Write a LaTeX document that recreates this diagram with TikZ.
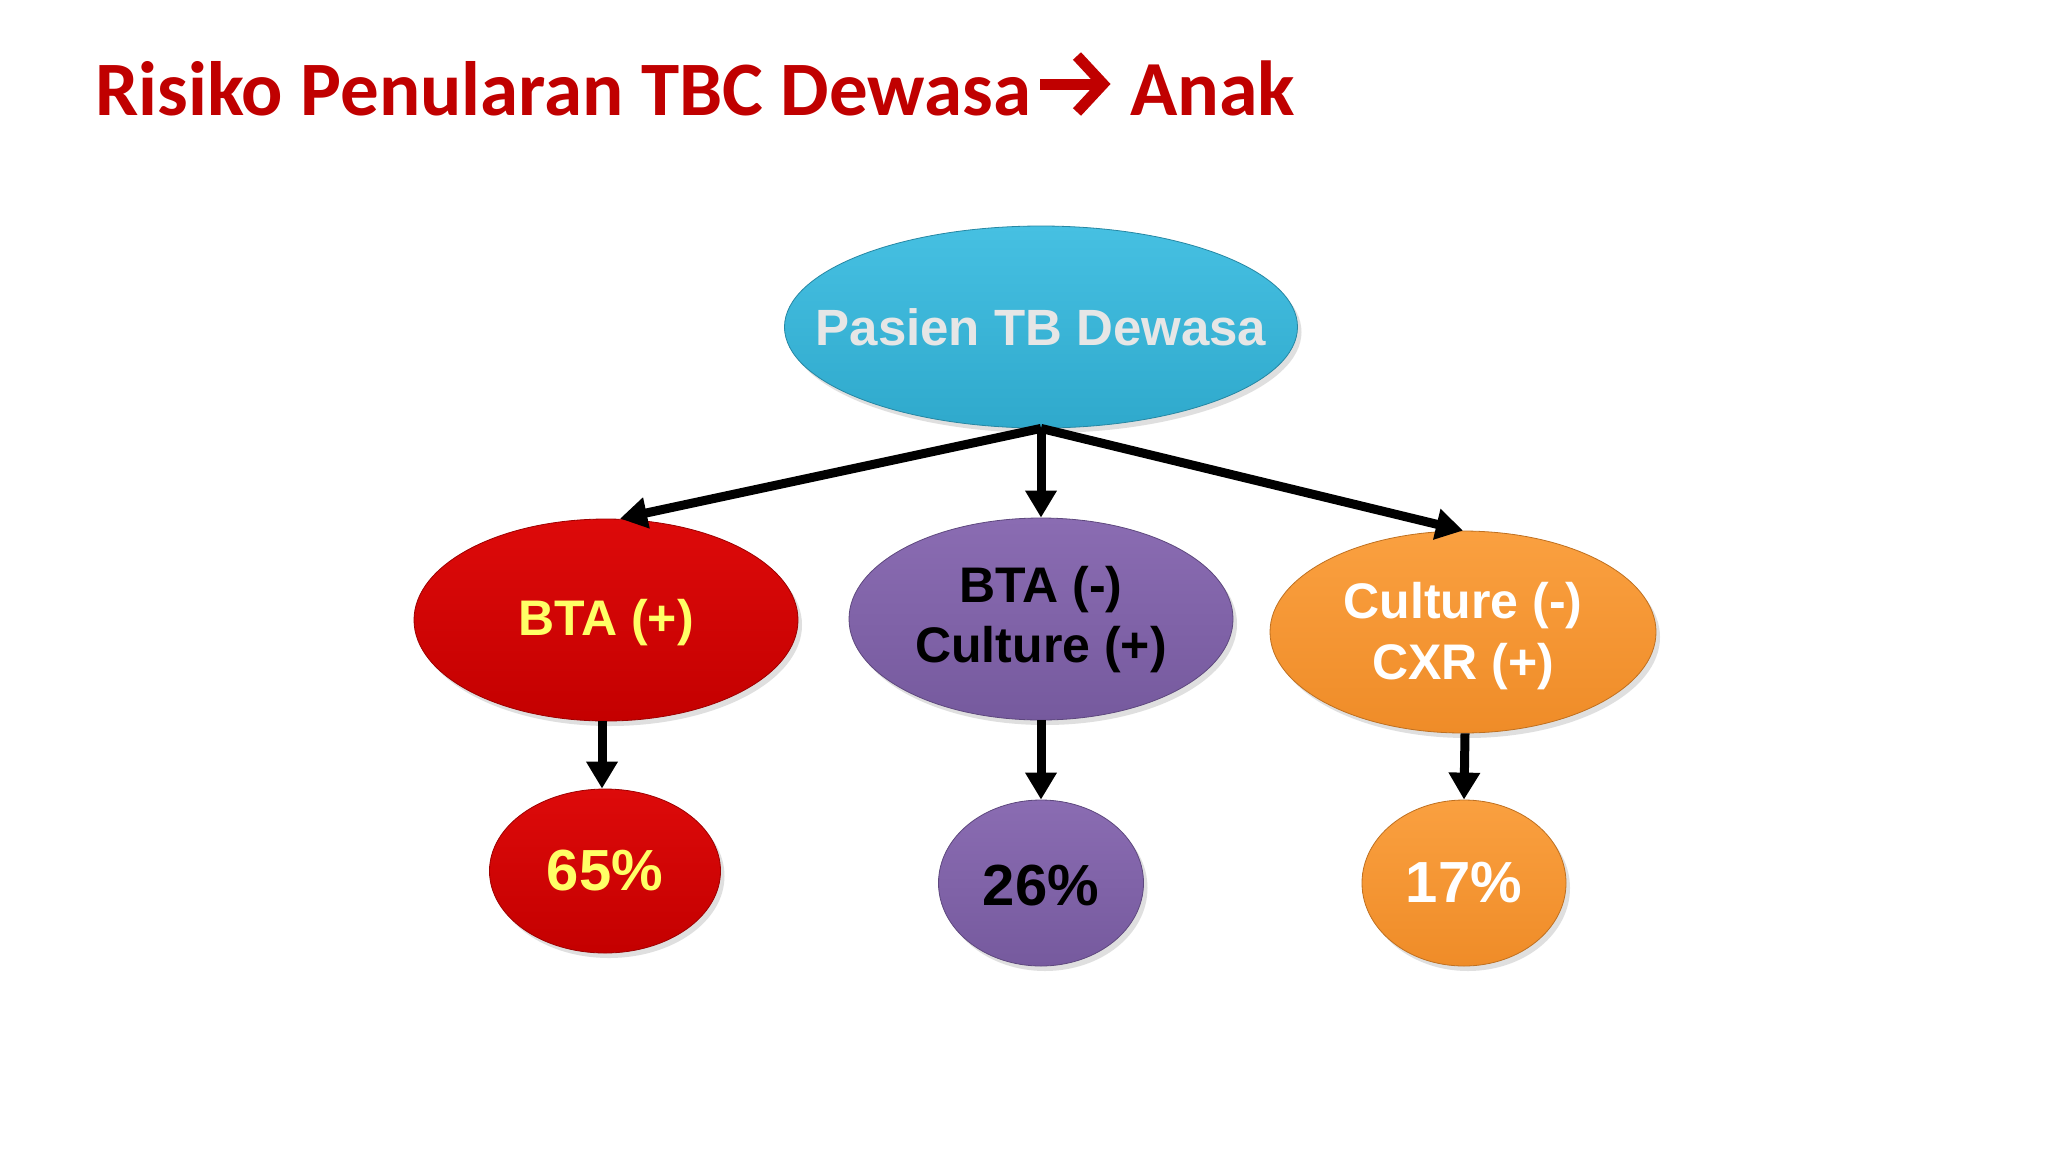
\documentclass[tikz,border=0pt]{standalone}
\usepackage{fontspec}
\setmainfont{Liberation Sans}
\newfontfamily\titlefont{Carlito}
\usetikzlibrary{shapes.geometric,arrows.meta,shadows}
\definecolor{titlered}{HTML}{C00000}
\definecolor{cyanA}{HTML}{46C0E2}
\definecolor{cyanB}{HTML}{2FA9CC}
\definecolor{redA}{HTML}{DD0A0A}
\definecolor{redB}{HTML}{C40000}
\definecolor{purA}{HTML}{8A6CB2}
\definecolor{purB}{HTML}{765A9E}
\definecolor{orA}{HTML}{FAA040}
\definecolor{orB}{HTML}{EF8C28}
\definecolor{yel}{HTML}{FFFF66}
\definecolor{lgray}{HTML}{E6E6E6}
\tikzset{
  oval/.style={ellipse, inner sep=0pt,
    drop shadow={opacity=0.25, shadow xshift=4pt, shadow yshift=-5pt}},
  cyanoval/.style={oval, top color=cyanA, bottom color=cyanB, draw=cyanB!80!black, line width=0.8pt},
  redoval/.style={oval, top color=redA, bottom color=redB, draw=redB!80!black, line width=0.8pt},
  puroval/.style={oval, top color=purA, bottom color=purB, draw=purB!80!black, line width=0.8pt},
  oroval/.style={oval, top color=orA, bottom color=orB, draw=orB!80!black, line width=0.8pt},
  lbl/.style={align=center, inner sep=0pt, font=\bfseries\fontsize{50}{60}\selectfont},
  pct/.style={align=center, inner sep=0pt, font=\bfseries\fontsize{58}{64}\selectfont},
  conn/.style={line width=9pt, -{Triangle[length=27pt,width=30pt]}}
}
\begin{document}
\begin{tikzpicture}[x=1pt,y=-1pt]
\useasboundingbox (0,0) rectangle (2048,1152);
\fill[white] (0,0) rectangle (2048,1152);

\node[anchor=base west, inner sep=0pt, text=titlered, font=\titlefont\bfseries\fontsize{77}{90}\selectfont] (title) at (95,115)
  {Risiko Penularan TBC Dewasa};
\node[anchor=base west, inner sep=0pt, text=titlered, font=\titlefont\bfseries\fontsize{78}{90}\selectfont] (title2) at (1130,115)
  {Anak};
\draw[titlered, line width=11pt, miter limit=10] (1040,84) -- (1098,84);
\draw[titlered, line width=11pt, miter limit=10] (1077,56) -- (1103,84) -- (1077,112);

\node[cyanoval, minimum width=513pt, minimum height=202pt,
  label={[lbl, text=lgray, font=\bfseries\fontsize{51}{58}\selectfont]center:Pasien TB Dewasa}] (top) at (1041,327) {};

\node[redoval, minimum width=384pt, minimum height=202pt,
  label={[lbl, text=yel, yshift=-3pt]center:BTA (+)}] (bta) at (606,620) {};
\node[puroval, minimum width=384pt, minimum height=202pt,
  label={[lbl, text=black, yshift=-1pt]center:BTA (-)\\Culture (+)}] (btaneg) at (1041,619) {};
\node[oroval, minimum width=386pt, minimum height=202pt,
  label={[lbl, text=white, font=\bfseries\fontsize{50}{61}\selectfont, yshift=-4pt]center:Culture (-)\\CXR (+)}] (cul) at (1463,632) {};

\node[redoval, minimum width=231pt, minimum height=164pt,
  label={[pct, text=yel]center:65\%}] (p65) at (605,871) {};
\node[puroval, minimum width=205pt, minimum height=166pt,
  label={[pct, text=black, yshift=-3pt]center:26\%}] (p26) at (1041,883) {};
\node[oroval, minimum width=204pt, minimum height=166pt,
  label={[pct, text=white]center:17\%}] (p17) at (1464,883) {};

\coordinate (hub) at (top.south);
\draw[conn] (hub) -- ([xshift=14pt]bta.north);
\draw[conn] (hub) -- (btaneg.north);
\draw[conn] (hub) -- (cul.north);

\draw[conn] ([xshift=-4pt]bta.south) -- ([xshift=-3pt]p65.north);
\draw[conn] (btaneg.south) -- (p26.north);
\draw[conn] ([xshift=2pt]cul.south) -- (p17.north);
\end{tikzpicture}
\end{document}
